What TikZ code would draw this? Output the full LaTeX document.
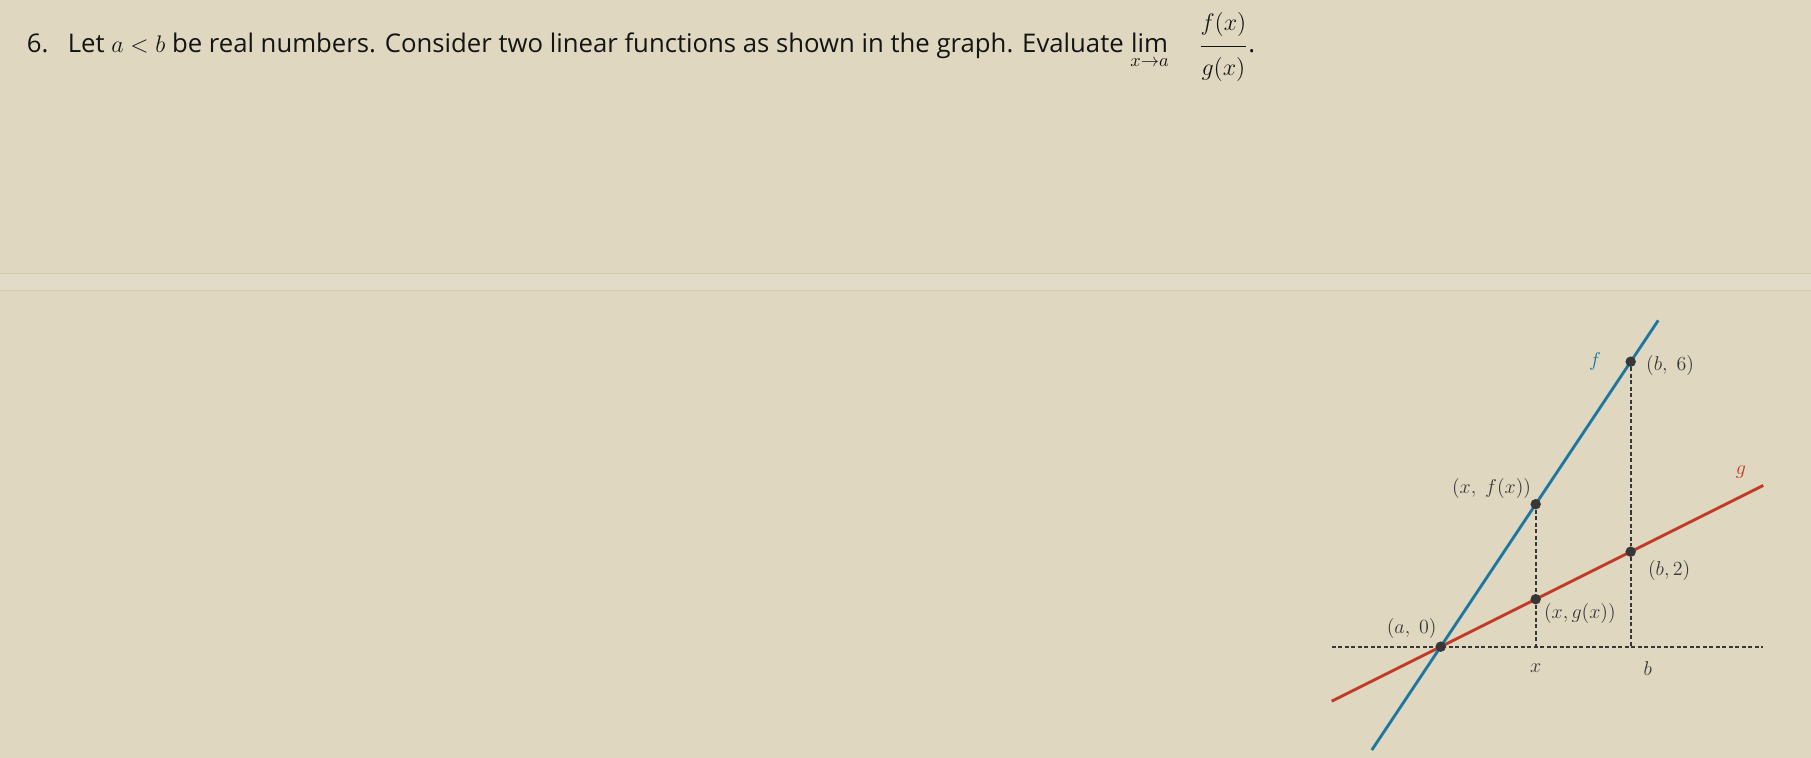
\documentclass[tikz,border=0pt]{standalone}
\usepackage{fontspec}
\setmainfont{Open Sans}
\usepackage{amsmath}
\usetikzlibrary{positioning}
\definecolor{paper}{RGB}{223,215,191}
\definecolor{band}{RGB}{226,219,199}
\definecolor{bandline}{RGB}{211,202,178}
\definecolor{fblue}{RGB}{28,118,160}
\definecolor{gred}{RGB}{192,60,40}
\definecolor{ink}{RGB}{55,55,55}
\tikzset{
  dot/.style={circle,fill=ink,inner sep=0pt,minimum size=2.2mm},
  guide/.style={ink,line width=1.1pt,dash pattern=on 2.4pt off 1.5pt},
  lbl/.style={text=ink,font=\fontsize{13}{15}\selectfont,inner sep=0pt},
}

\begin{document}
\begin{tikzpicture}
    % page
    \fill[paper](-30.331,-2.343)rectangle(7.796,13.615);
    \useasboundingbox(-30.331,-2.343)rectangle(7.796,13.615);
    \fill[band](-30.331,7.509)rectangle(7.796,7.867);
    \draw[bandline,line width=0.6pt](-30.331,7.509)--(7.796,7.509);
    \draw[bandline,line width=0.6pt](-30.331,7.867)--(7.796,7.867);

    % question
    \node[anchor=base west,inner sep=0pt,text={rgb,255:red,20;green,20;blue,20},font=\fontsize{15.4}{18}\selectfont](question)at(-29.77,12.514)
        {6.\hspace{0.75em}Let $a<b$ be real numbers. Consider two linear functions as shown in the graph. Evaluate $\lim\limits_{x\to a}\quad\dfrac{f(x)\rule[-0.5em]{0pt}{0pt}}{\rule{0pt}{1.0em}g(x)}$.};

    % graph, a=0, x=2, b=4
    \coordinate(fL)at(-1.45,-2.175);
    \coordinate(fR)at(4.58,6.87);
    \coordinate(gL)at(-2.295,-1.1475);
    \coordinate(gR)at(6.79,3.395);
    \coordinate(axL)at(-2.295,0);
    \coordinate(axR)at(6.79,0);
    \coordinate(X0)at(2,0);
    \coordinate(B0)at(4,0);

    \draw[guide](axL)--(axR);
    \draw[gred,line width=1.7pt](gL)--(gR);
    \draw[fblue,line width=1.7pt](fL)--(fR);

    \node[dot](A0)at(0,0){};
    \node[dot](XF)at(2,3){};
    \node[dot](XG)at(2,1){};
    \node[dot](B6)at(4,6){};
    \node[dot](B2)at(4,2){};

    \draw[guide](XF)--(XG)--(X0);
    \draw[guide](B6)--(B2)--(B0);

    \node[lbl,text=fblue](flab)at(3.25,6.0){$f$};
    \node[lbl,text=gred](glab)at(6.32,3.68){$g$};
    \node[lbl](a0lab)at(-0.61,0.39){$(a,\ 0)$};
    \node[lbl](xflab)at(1.07,3.33){$(x,\ f(x))$};
    \node[lbl](xglab)at(2.93,0.69){$(x,g(x))$};
    \node[lbl](b6lab)at(4.83,5.93){$(b,\ 6)$};
    \node[lbl](b2lab)at(4.81,1.61){$(b,2)$};
    \node[lbl](xlab)at(2,-0.45){$x$};
    \node[lbl](blab)at(4.36,-0.45){$b$};
\end{tikzpicture}
\end{document}
